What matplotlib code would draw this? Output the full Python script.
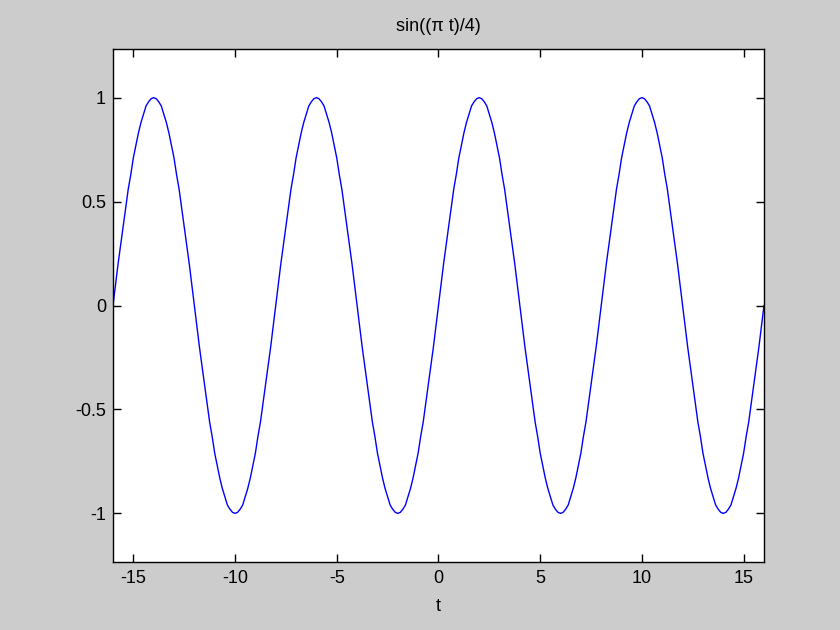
import matplotlib
matplotlib.use("Agg")
import matplotlib.pyplot as plt
import numpy as np

# samples, every 0.125 in t from -16 to 16 (one period = 8)
t = np.arange(-16, 16.001, 0.125)
period = [0, 0.10, 0.20, 0.29, 0.38, 0.47, 0.56, 0.63,
          0.71, 0.77, 0.83, 0.88, 0.92, 0.96, 0.98, 0.995,
          1, 0.995, 0.98, 0.96, 0.92, 0.88, 0.83, 0.77,
          0.71, 0.63, 0.56, 0.47, 0.38, 0.29, 0.20, 0.10,
          0, -0.10, -0.20, -0.29, -0.38, -0.47, -0.56, -0.63,
          -0.71, -0.77, -0.83, -0.88, -0.92, -0.96, -0.98, -0.995,
          -1, -0.995, -0.98, -0.96, -0.92, -0.88, -0.83, -0.77,
          -0.71, -0.63, -0.56, -0.47, -0.38, -0.29, -0.20, -0.10]
y = period * 4 + [0]

xticks = [-15, -10, -5, 0, 5, 10, 15]
yticks = [-1, -0.5, 0, 0.5, 1]
ytick_labels = ['-1', '-0.5', '0', '0.5', '1']

plt.rcParams['font.family'] = ['Liberation Sans', 'DejaVu Sans']

fig = plt.figure(figsize=(8.4, 6.3), dpi=100, facecolor='#cccccc')
ax = fig.add_axes([0.1345, 0.1079, 0.775, 0.8143])
ax.plot(t, y, color='#0000ff', lw=1)

ax.set_xlim(-16, 16)
ax.set_ylim(-1.234, 1.234)
ax.set_xticks(xticks)
ax.set_xticklabels([str(v) for v in xticks])
ax.set_yticks(yticks)
ax.set_yticklabels(ytick_labels)
ax.tick_params(direction='in', top=True, right=True, length=6, width=1,
               labelsize=13)
ax.tick_params(axis='x', pad=6)
ax.tick_params(axis='y', pad=5)
for s in ax.spines.values():
    s.set_linewidth(1)

ax.set_title('sin((π t)/4)', fontsize=13, pad=13)
ax.set_xlabel('t', fontsize=13, labelpad=8)

fig.savefig('out.png', dpi=100, facecolor=fig.get_facecolor())
